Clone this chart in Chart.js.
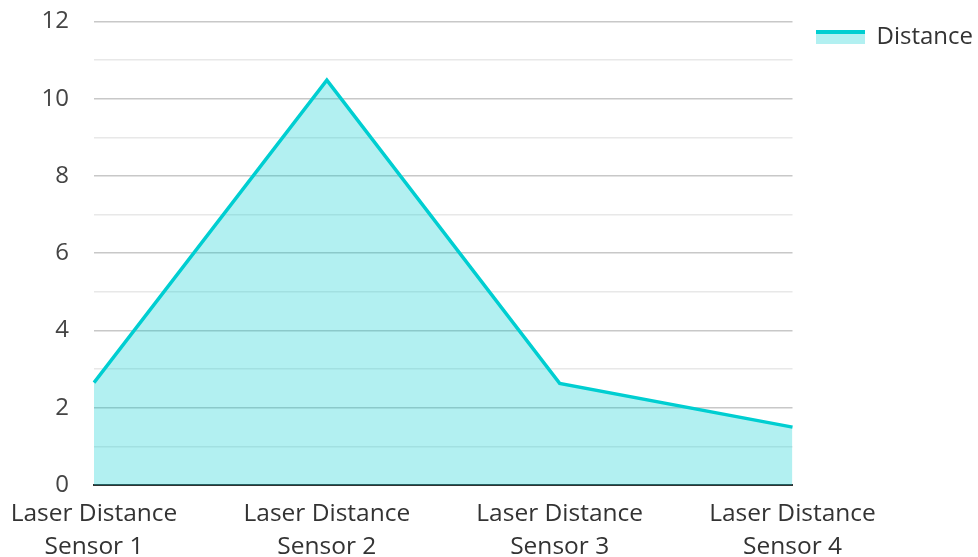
<!DOCTYPE html>
<html>
<head>
<meta charset="utf-8">
<script src="https://cdn.jsdelivr.net/npm/chart.js@4"></script>
<style>
html,body{margin:0;padding:0;background:#fff;}
#wrap{width:978px;height:557px;}
</style>
</head>
<body>
<div id="wrap"><canvas id="c" width="978" height="557"></canvas></div>
<script>
const categories = [["Laser Distance","Sensor 1"],["Laser Distance","Sensor 2"],["Laser Distance","Sensor 3"],["Laser Distance","Sensor 4"]];
const seriesName = "Distance";
const distanceValues = [2.65, 10.48, 2.63, 1.5];
const yTickLabels = [0, 2, 4, 6, 8, 10, 12];

const LINE = 'rgb(0,206,209)';
const FILL = 'rgba(0,206,209,0.3)';

const icon = document.createElement('canvas');
icon.width = 49; icon.height = 14;
{
  const g = icon.getContext('2d');
  g.fillStyle = FILL; g.fillRect(0, 0, 49, 14);
  g.fillStyle = LINE; g.fillRect(0, 0, 49, 4);
}

Chart.defaults.font.family = "'Open Sans', 'Noto Sans', sans-serif";
Chart.defaults.color = '#444';

new Chart(document.getElementById('c'), {
  type: 'line',
  data: {
    labels: categories,
    datasets: [{
      label: seriesName,
      data: distanceValues,
      borderColor: LINE,
      backgroundColor: FILL,
      borderWidth: 3.4,
      fill: 'origin',
      tension: 0,
      pointRadius: 0,
      pointHoverRadius: 0,
      pointStyle: icon
    }]
  },
  options: {
    responsive: false,
    animation: false,
    devicePixelRatio: 1,
    layout: { autoPadding: false, padding: { top: 2, left: 0, right: -5, bottom: 0 } },
    plugins: {
      tooltip: { enabled: false },
      legend: {
        position: 'right',
        align: 'start',
        labels: {
          usePointStyle: true,
          pointStyleWidth: 49,
          boxHeight: 14,
          font: { size: 24 },
          color: '#333',
          padding: 23
        }
      }
    },
    scales: {
      x: {
        offset: false,
        grid: {
          display: true,
          drawOnChartArea: false,
          drawTicks: true,
          tickLength: 13,
          tickColor: 'rgba(0,0,0,0)',
          color: 'rgba(0,0,0,0)'
        },
        border: { display: true, color: '#333', width: 2 },
        ticks: { font: { size: 24.5, lineHeight: 1.33 }, color: '#333', padding: 0, maxRotation: 0, autoSkip: false },
        afterFit: s => { s.height = 72; }
      },
      y: {
        min: 0,
        max: 12,
        border: { display: false },
        grid: {
          drawTicks: true,
          tickLength: 18,
          tickColor: 'rgba(0,0,0,0)',
          color: ctx => (ctx.tick && ctx.tick.value % 2 === 0) ? '#c8c8c8' : '#e8e8e8',
          lineWidth: 1.6
        },
        ticks: {
          stepSize: 1,
          autoSkip: false,
          padding: 7,
          font: { size: 24 },
          color: '#444',
          callback: v => yTickLabels.includes(v) ? String(v) : ''
        },
        afterFit: s => { s.width = 94; }
      }
    }
  }
});
</script>
</body>
</html>
